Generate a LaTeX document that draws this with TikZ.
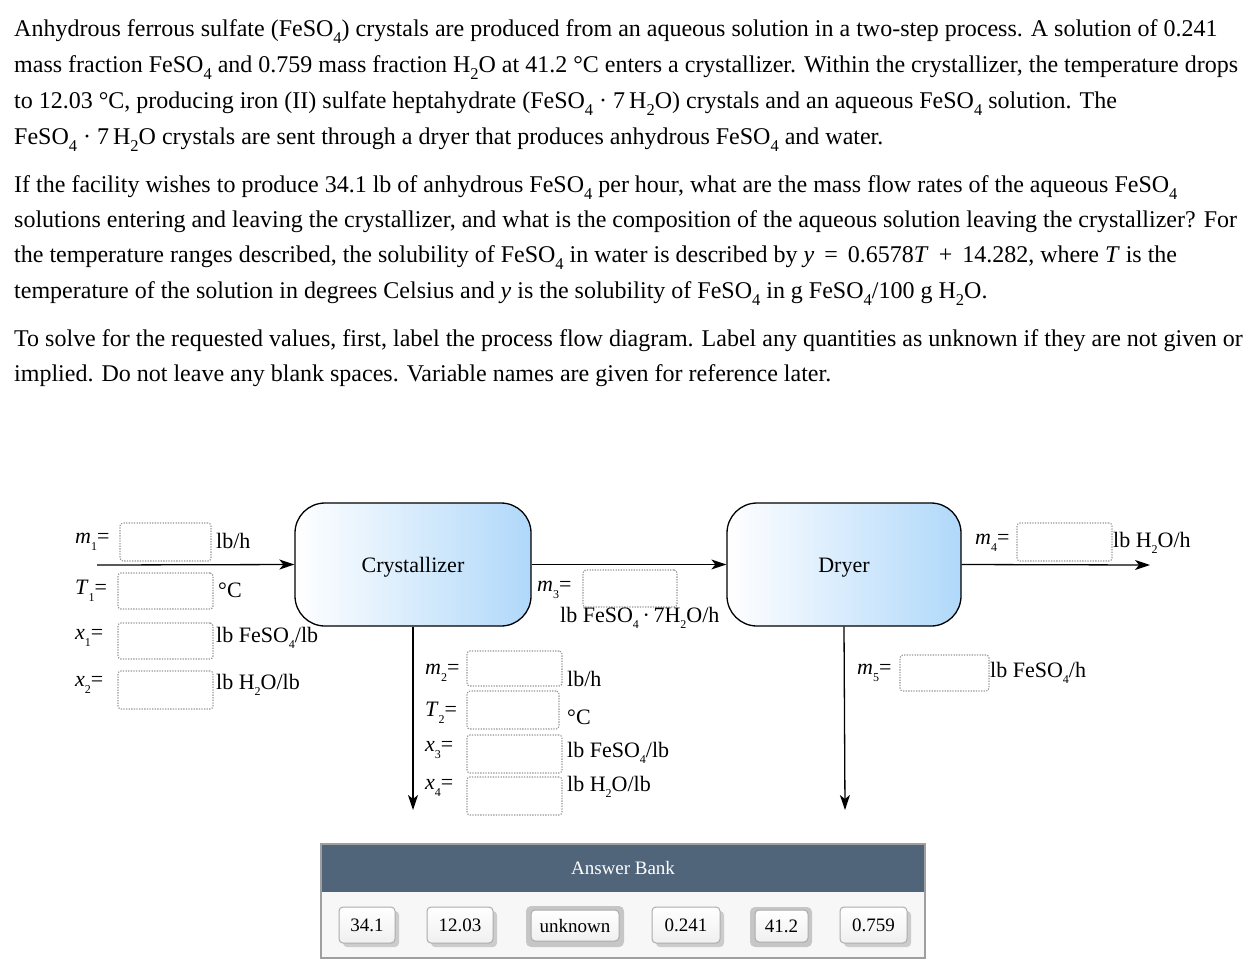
\documentclass[tikz,border=0pt]{standalone}
\usepackage{fontspec}
\setmainfont{Liberation Serif}
\usetikzlibrary{arrows.meta,shadows}
\definecolor{boxblue}{RGB}{176,216,250}
\definecolor{hdr}{RGB}{80,100,122}
\definecolor{bankbg}{RGB}{247,247,247}
\definecolor{dotgray}{RGB}{150,150,150}
\newcommand\sbt[1]{\raisebox{-0.3em}{\fontsize{16.5}{16.5}\selectfont #1}}
\newcommand\sbd[1]{\raisebox{-0.3em}{\fontsize{12}{12}\selectfont #1}}
\newcommand\msp{\hspace{0.42em}}
\begin{document}
\begin{tikzpicture}[x=1pt,y=-1pt,
  para/.style={anchor=base west, inner sep=0pt, font=\fontsize{24}{28}\selectfont},
  lbl/.style={anchor=west, inner sep=0pt, font=\fontsize{22}{26}\selectfont},
  ansbox/.style={draw=dotgray, dash pattern=on 1.3pt off 1.3pt, line width=1.1pt, rounded corners=3pt, inner sep=0pt},
  unitbox/.style={draw, line width=1.3pt, rounded corners=30pt, left color=white, right color=boxblue, inner sep=0pt, text height=19pt, text depth=3pt, font=\fontsize{22}{26}\selectfont},
  arr/.style={line width=1.3pt, -{Stealth[length=15pt,width=10pt,inset=4pt]}},
  btn/.style={draw=gray!65, line width=1pt, rounded corners=4pt, top color=white, bottom color=gray!12, inner sep=0pt, font=\fontsize{19}{22}\selectfont},
  btnshadow/.style={drop shadow={shadow xshift=4pt, shadow yshift=-4pt, fill=gray!40, opacity=1}},
  pressed/.style={fill=gray!45, rounded corners=5pt, inner sep=0pt}
]
\useasboundingbox (0,0) rectangle (1252,970);

% ---------------- text ----------------
\node[para] (p1a) at (14,36) {Anhydrous ferrous sulfate (FeSO\sbt{4}) crystals are produced from an aqueous solution in a two-step process. A solution of 0.241};
\node[para] (p1b) at (14,72) {mass fraction FeSO\sbt{4} and 0.759 mass fraction H\sbt{2}O at 41.2 °C enters a crystallizer. Within the crystallizer, the temperature drops};
\node[para] (p1c) at (14,108) {to 12.03 °C, producing iron (II) sulfate heptahydrate (FeSO\sbt{4} · 7\,H\sbt{2}O) crystals and an aqueous FeSO\sbt{4} solution. The};
\node[para] (p1d) at (14,144) {FeSO\sbt{4} · 7\,H\sbt{2}O crystals are sent through a dryer that produces anhydrous FeSO\sbt{4} and water.};

\node[para] (p2a) at (14,192) {If the facility wishes to produce 34.1 lb of anhydrous FeSO\sbt{4} per hour, what are the mass flow rates of the aqueous FeSO\sbt{4}};
\node[para] (p2b) at (14,227) {solutions entering and leaving the crystallizer, and what is the composition of the aqueous solution leaving the crystallizer? For};
\node[para] (p2c) at (14,262) {the temperature ranges described, the solubility of FeSO\sbt{4} in water is described by \textit{y}\msp=\msp0.6578\textit{T}\msp+\msp14.282, where \textit{T} is the};
\node[para] (p2d) at (14,298) {temperature of the solution in degrees Celsius and \textit{y} is the solubility of FeSO\sbt{4} in g FeSO\sbt{4}/100 g H\sbt{2}O.};

\node[para] (p3a) at (14,346) {To solve for the requested values, first, label the process flow diagram. Label any quantities as unknown if they are not given or};
\node[para] (p3b) at (14,381) {implied. Do not leave any blank spaces. Variable names are given for reference later.};

% ---------------- units ----------------
\node[unitbox, minimum width=236pt, minimum height=123pt] (cryst) at (413,564.5) {Crystallizer};
\node[unitbox, minimum width=234pt, minimum height=123pt] (dryer) at (844,564.5) {Dryer};

\coordinate (in1) at (97,565);
\coordinate (out4) at (1150,565);
\coordinate (out2) at (413,810);
\coordinate (out5) at (845,810);

\draw[arr] (in1) -- (cryst.west);
\draw[arr] (cryst.east) -- (dryer.west);
\draw[arr] (dryer.east) -- (out4);
\draw[arr] (cryst.south) -- (out2);
\draw[arr] (dryer.south) -- (out5);

% ---------------- stream 1 ----------------
\node[ansbox, minimum width=91pt, minimum height=38pt] (b1) at (165.5,542) {};
\node[ansbox, minimum width=95pt, minimum height=36pt] (b2) at (165.5,591) {};
\node[ansbox, minimum width=95pt, minimum height=36pt] (b3) at (165.5,641) {};
\node[ansbox, minimum width=95pt, minimum height=38pt] (b4) at (165.5,690) {};
\node[lbl] (l1) at (75,542) {\textit{m}\sbd{1}=};
\node[lbl] (l2) at (75,591) {\textit{T}\sbd{1}=};
\node[lbl] (l3) at (75,638) {\textit{x}\sbd{1}=};
\node[lbl] (l4) at (75,685) {\textit{x}\sbd{2}=};
\node[lbl] (u1) at (216,541) {lb/h};
\node[lbl] (u2) at (218,590) {°C};
\node[lbl] (u3) at (216,638) {lb FeSO\sbd{4}/lb};
\node[lbl] (u4) at (216,685) {lb H\sbd{2}O/lb};

% ---------------- stream 3 ----------------
\node[ansbox, minimum width=94pt, minimum height=37pt] (b5) at (630,588.5) {};
\node[lbl] (l5) at (537,590) {\textit{m}\sbd{3}=};
\node[lbl] (u5) at (560,618) {lb FeSO\sbd{4}\,·\,7H\sbd{2}O/h};

% ---------------- stream 2 ----------------
\node[ansbox, minimum width=95pt, minimum height=35pt] (b6) at (514.5,668.5) {};
\node[ansbox, minimum width=92pt, minimum height=38pt] (b7) at (513,710) {};
\node[ansbox, minimum width=95pt, minimum height=38pt] (b8) at (514.5,754) {};
\node[ansbox, minimum width=95pt, minimum height=38pt] (b9) at (514.5,796) {};
\node[lbl] (l6) at (425,673) {\textit{m}\sbd{2}=};
\node[lbl] (l7) at (425,713) {\textit{T}\sbd{2}=};
\node[lbl] (l8) at (425,750) {\textit{x}\sbd{3}=};
\node[lbl] (l9) at (425,788) {\textit{x}\sbd{4}=};
\node[lbl] (u6) at (567,679) {lb/h};
\node[lbl] (u7) at (567,717) {°C};
\node[lbl] (u8) at (567,753) {lb FeSO\sbd{4}/lb};
\node[lbl] (u9) at (567,787) {lb H\sbd{2}O/lb};

% ---------------- stream 4 and 5 ----------------
\node[ansbox, minimum width=95pt, minimum height=38pt] (b10) at (1064.5,542) {};
\node[lbl] (l10) at (975,543) {\textit{m}\sbd{4}=};
\node[lbl] (u10) at (1113,543) {lb H\sbd{2}O/h};
\node[ansbox, minimum width=89pt, minimum height=36pt] (b11) at (944.5,673) {};
\node[lbl] (l11) at (857,673) {\textit{m}\sbd{5}=};
\node[lbl] (u11) at (990,673) {lb FeSO\sbd{4}/h};

% ---------------- answer bank ----------------
\draw[draw=gray!75, line width=2pt, fill=bankbg] (321,844) rectangle (925,958);
\fill[hdr] (322,845) rectangle (924,892);
\node[text=white, font=\fontsize{19}{22}\selectfont] (abank) at (623,868) {Answer Bank};

\node[btn, btnshadow, minimum width=56pt, minimum height=36pt] (k1) at (367,925) {34.1};
\node[btn, btnshadow, minimum width=66pt, minimum height=36pt] (k2) at (460,925) {12.03};
\node[pressed, minimum width=98pt, minimum height=41pt] (k3s) at (575,926.5) {};
\node[btn, minimum width=88pt, minimum height=31pt] (k3) at (575,925.5) {unknown};
\node[btn, btnshadow, minimum width=68pt, minimum height=36pt] (k4) at (686,925) {0.241};
\node[pressed, minimum width=62pt, minimum height=40pt] (k5s) at (781,927) {};
\node[btn, minimum width=53pt, minimum height=32pt] (k5) at (781.5,926) {41.2};
\node[btn, btnshadow, minimum width=67pt, minimum height=36pt] (k6) at (873.5,925) {0.759};
\end{tikzpicture}
\end{document}
